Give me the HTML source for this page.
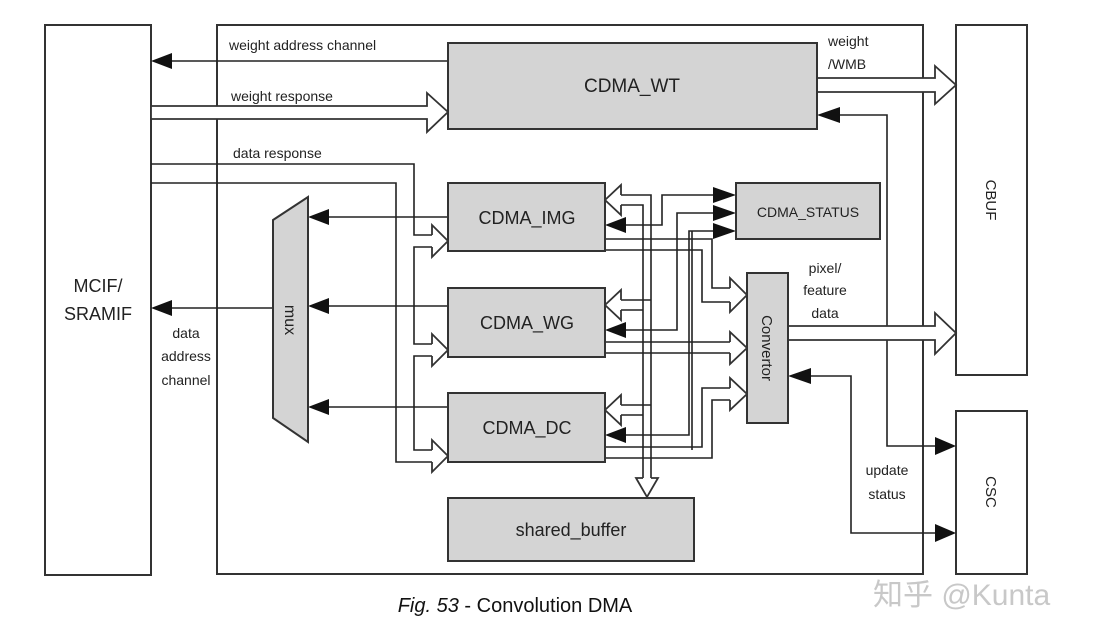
<!DOCTYPE html>
<html><head><meta charset="utf-8"><style>
html,body{margin:0;padding:0;background:#fff;}
svg{display:block;font-family:"Liberation Sans",sans-serif;}
</style></head><body>
<svg width="1100" height="638" viewBox="0 0 1100 638" xmlns="http://www.w3.org/2000/svg">
<g fill="none" stroke="#333" stroke-width="2">
<!-- outer boxes -->
<rect x="45" y="25" width="106" height="550" fill="#fff"/>
<rect x="217" y="25" width="706" height="549"/>
<rect x="956" y="25" width="71" height="350" fill="#fff"/>
<rect x="956" y="411" width="71" height="163" fill="#fff"/>
</g>
<!-- thin lines -->
<g fill="none" stroke="#222" stroke-width="1.6">
<!-- weight address -->
<line x1="448" y1="61" x2="170" y2="61"/>
<!-- data response -->
<polyline points="151,164 414,164 414,235 432,235"/>
<polyline points="432,247 414,247 414,344 432,344"/>
<polyline points="432,356 414,356 414,450 432,450"/>
<polyline points="151,183 396,183 396,462 432,462"/>
<!-- mux taps -->
<line x1="448" y1="217" x2="325" y2="217"/>
<line x1="448" y1="306" x2="325" y2="306"/>
<line x1="448" y1="407" x2="325" y2="407"/>
<line x1="273" y1="308" x2="170" y2="308"/>
<!-- shared bus -->
<polyline points="621,195 651,195 651,478"/>
<polyline points="621,205 643,205 643,478"/>
<line x1="621" y1="300" x2="651" y2="300"/>
<line x1="621" y1="310" x2="643" y2="310"/>
<line x1="621" y1="405" x2="651" y2="405"/>
<line x1="621" y1="415" x2="643" y2="415"/>
<!-- to status -->
<polyline points="625,225 662,225 662,195 715,195"/>
<polyline points="625,330 677,330 677,213 715,213"/>
<polyline points="625,435 689,435 689,231 715,231"/>
<line x1="692" y1="231" x2="692" y2="450"/>
<!-- to convertor -->
<polyline points="605,239 712,239 712,288 730,288"/>
<polyline points="605,250 702,250 702,302 730,302"/>
<line x1="605" y1="342" x2="730" y2="342"/>
<line x1="605" y1="353" x2="730" y2="353"/>
<polyline points="605,447 702,447 702,388 730,388"/>
<polyline points="605,458 712,458 712,400 730,400"/>
<!-- right -->
<polyline points="838,115 887,115 887,446 935,446"/>
<polyline points="810,376 851,376 851,533 935,533"/>
</g>
<!-- filled arrowheads -->
<g fill="#111">
<polygon points="151,61 172,53 172,69"/>
<polygon points="151,308 172,300 172,316"/>
<polygon points="308,217 329,209 329,225"/>
<polygon points="308,306 329,298 329,314"/>
<polygon points="308,407 329,399 329,415"/>
<polygon points="605,225 626,217 626,233"/>
<polygon points="605,330 626,322 626,338"/>
<polygon points="605,435 626,427 626,443"/>
<polygon points="736,195 713,187 713,203"/>
<polygon points="736,213 713,205 713,221"/>
<polygon points="736,231 713,223 713,239"/>
<polygon points="817,115 840,107 840,123"/>
<polygon points="788,376 811,368 811,384"/>
<polygon points="956,446 935,437 935,455"/>
<polygon points="956,533 935,524 935,542"/>
</g>
<!-- hollow arrows -->
<g fill="#fff" stroke="#333" stroke-width="1.8">
<path d="M151 106 L427 106 L427 93 L448 112 L427 132 L427 119 L151 119 Z"/>
<path d="M817 78 L935 78 L935 66 L956 85 L935 104 L935 92 L817 92"/>
<path d="M788 326 L935 326 L935 313 L956 333 L935 354 L935 340 L788 340"/>
<path d="M432 235 L432 225 L448 241 L432 257 L432 247"/>
<path d="M432 344 L432 334 L448 350 L432 366 L432 356"/>
<path d="M432 450 L432 440 L448 456 L432 472 L432 462"/>
<path d="M621 195 L621 185 L605 200 L621 215 L621 205"/>
<path d="M621 300 L621 290 L605 305 L621 320 L621 310"/>
<path d="M621 405 L621 395 L605 410 L621 425 L621 415"/>
<path d="M730 288 L730 278 L747 295 L730 312 L730 302"/>
<path d="M730 342 L730 332 L747 348 L730 364 L730 353"/>
<path d="M730 388 L730 378 L747 394 L730 410 L730 400"/>
<path d="M643 478 L636 478 L647 497 L658 478 L651 478"/>
</g>
<!-- gray blocks -->
<g fill="#d4d4d4" stroke="#333" stroke-width="2">
<rect x="448" y="43" width="369" height="86"/>
<rect x="448" y="183" width="157" height="68"/>
<rect x="448" y="288" width="157" height="69"/>
<rect x="448" y="393" width="157" height="69"/>
<rect x="736" y="183" width="144" height="56"/>
<rect x="747" y="273" width="41" height="150"/>
<rect x="448" y="498" width="246" height="63"/>
<polygon points="273,220 308,197 308,442 273,418"/>
</g>
<!-- labels -->
<g fill="#222" font-size="18" text-anchor="middle">
<text x="632" y="92" font-size="19">CDMA_WT</text>
<text x="527" y="224">CDMA_IMG</text>
<text x="527" y="329">CDMA_WG</text>
<text x="527" y="434">CDMA_DC</text>
<text x="808" y="217" font-size="14">CDMA_STATUS</text>
<text x="571" y="536">shared_buffer</text>
<text x="98" y="292">MCIF/</text>
<text x="98" y="320">SRAMIF</text>
<text transform="translate(285,320) rotate(90)" font-size="16">mux</text>
<text transform="translate(762,348) rotate(90)" font-size="15">Convertor</text>
<text transform="translate(986,200) rotate(90)" font-size="15">CBUF</text>
<text transform="translate(986,492) rotate(90)" font-size="15">CSC</text>
</g>
<g fill="#222" font-size="14">
<text x="229" y="50">weight address channel</text>
<text x="231" y="101">weight response</text>
<text x="233" y="158">data response</text>
<text x="828" y="46">weight</text>
<text x="828" y="69">/WMB</text>
<g text-anchor="middle">
<text x="825" y="273">pixel/</text>
<text x="825" y="295">feature</text>
<text x="825" y="318">data</text>
<text x="887" y="475">update</text>
<text x="887" y="499">status</text>
<text x="186" y="338">data</text>
<text x="186" y="361">address</text>
<text x="186" y="385">channel</text>
</g>
</g>
<text x="515" y="612" text-anchor="middle" font-size="20" fill="#111"><tspan font-style="italic">Fig. 53</tspan> - Convolution DMA</text>
<text x="873" y="605" font-size="30" fill="#c8c8c8" font-family="'Liberation Sans','Noto Sans CJK SC',sans-serif">知乎 @Kunta</text>
</svg>
</body></html>
